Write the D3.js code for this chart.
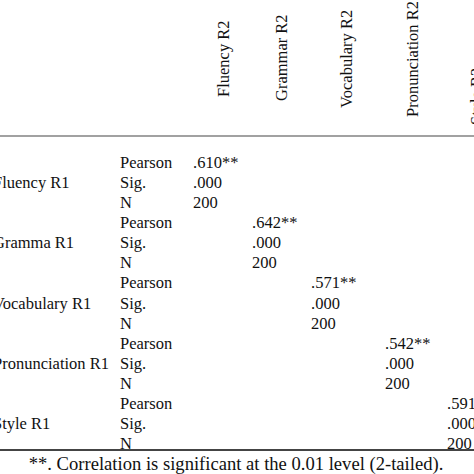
<!DOCTYPE html><html><head><meta charset="utf-8">
<script src="https://cdn.jsdelivr.net/npm/d3@7"></script>
<style>body{margin:0;background:#fff}text{font-family:"Liberation Serif","Times New Roman",serif;font-size:16.5px;fill:#111}</style></head><body>
<script>
const colLabels=["Fluency R2","Grammar R2","Vocabulary R2","Pronunciation R2","Style R2"];
const rowLabels=["Fluency R1","Gramma R1","Vocabulary R1","Pronunciation R1","Style R1"];
const statLabels=["Pearson","Sig.","N"];
const pearson=[".610**",".642**",".571**",".542**",".591**"];
const sig=[".000",".000",".000",".000",".000"];
const nVals=["200","200","200","200","200"];
const footnote="**. Correlation is significant at the 0.01 level (2-tailed).";

const svg=d3.select("body").append("svg").attr("width",474).attr("height",474);
const colX=[193,252,311,385,447];
const headX=[229,287,352,418,482];
const headBottom=[97,101,108,117,125];
const rowY=d3.scaleLinear().domain([0,14]).range([168,449]);

colLabels.forEach((l,i)=>{
  svg.append("text").attr("transform",`translate(${headX[i]},${headBottom[i]}) rotate(-90)`).text(l);
});
svg.append("line").attr("x1",0).attr("x2",474).attr("y1",136).attr("y2",136).attr("stroke","#444").attr("stroke-width",1.2);
rowLabels.forEach((l,i)=>{
  svg.append("text").attr("x",-7).attr("y",rowY(i*3+1)).text(l);
  statLabels.forEach((s,j)=>svg.append("text").attr("x",120).attr("y",rowY(i*3+j)).text(s));
  [pearson[i],sig[i],nVals[i]].forEach((v,j)=>svg.append("text").attr("x",colX[i]).attr("y",rowY(i*3+j)).text(v));
});
svg.append("line").attr("x1",0).attr("x2",474).attr("y1",450).attr("y2",450).attr("stroke","#444").attr("stroke-width",2.2);
svg.append("text").attr("x",236).attr("y",470).attr("text-anchor","middle").style("font-size","18.6px").text(footnote);
</script></body></html>
